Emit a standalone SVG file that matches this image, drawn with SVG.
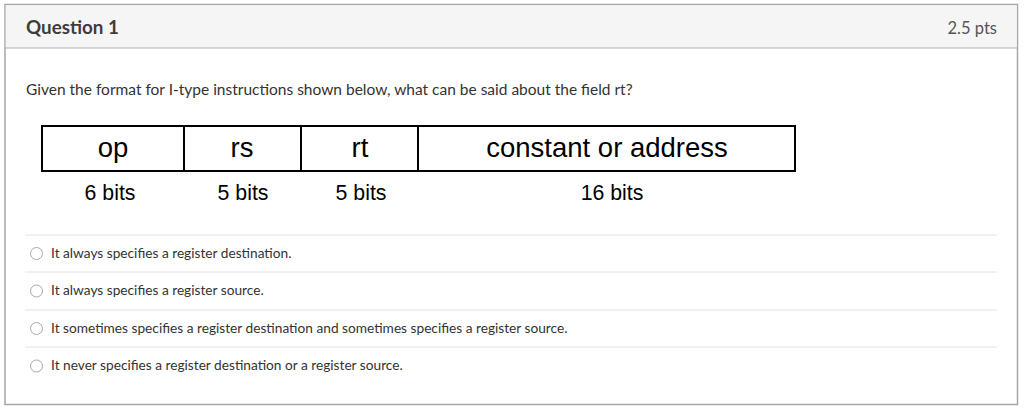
<svg xmlns="http://www.w3.org/2000/svg" width="1024" height="411" viewBox="0 0 1024 411">
<style>
.lato{font-family:Lato,"Open Sans",sans-serif;fill:#2d3b45}
.title{font-size:18.8px;font-weight:bold;fill:#3d3d3d}
.q{font-size:15.5px;fill:#333}
.opt{font-size:13.7px;fill:#333}
.cell{fill:#fff;stroke:#000;stroke-width:2}
.arial{font-family:"Liberation Sans",Arial,sans-serif;fill:#000;text-anchor:middle}
.big{font-size:27.5px}
.bits{font-size:21.3px}
.sep{stroke:#e2e2e2;stroke-width:1}
.radio{fill:#fff;stroke:#a8a8a8;stroke-width:1}
</style>
<rect x="0" y="0" width="1024" height="411" fill="#fff"/>
<g id="card">
<rect x="5" y="4.5" width="1012.5" height="400" fill="#fff" stroke="#a6a6a6" stroke-width="1.5"/>
<rect x="5.75" y="5.25" width="1011" height="42.5" fill="#f5f5f5"/>
<line x1="5" y1="48" x2="1017.5" y2="48" stroke="#b0b0b0" stroke-width="1.2"/>
<text class="lato title" x="26" y="34">Question 1</text>
<text class="lato" x="997" y="33.5" text-anchor="end" font-size="16.5" style="fill:#555">2.5 pts</text>
<text class="lato q" x="26" y="95">Given the format for I-type instructions shown below, what can be said about the field rt?</text>
</g>
<g id="format">
<g id="f-op"><rect class="cell" x="42" y="126" width="142" height="45"/><text class="arial big" x="113" y="157">op</text><text class="arial bits" x="110" y="200">6 bits</text></g>
<g id="f-rs"><rect class="cell" x="184" y="126" width="117" height="45"/><text class="arial big" x="242" y="157">rs</text><text class="arial bits" x="243" y="200">5 bits</text></g>
<g id="f-rt"><rect class="cell" x="301" y="126" width="117" height="45"/><text class="arial big" x="360" y="157">rt</text><text class="arial bits" x="361" y="200">5 bits</text></g>
<g id="f-addr"><rect class="cell" x="418" y="126" width="377" height="45"/><text class="arial big" x="607" y="157">constant or address</text><text class="arial bits" x="612" y="200">16 bits</text></g>
</g>
<g id="options">
<line class="sep" x1="25" y1="235" x2="997" y2="235"/>
<g id="opt1"><circle class="radio" cx="36.5" cy="253.5" r="6"/><text class="lato opt" x="51" y="257.5">It always specifies a register destination.</text></g>
<line class="sep" x1="25" y1="272" x2="997" y2="272"/>
<g id="opt2"><circle class="radio" cx="36.5" cy="291" r="6"/><text class="lato opt" x="51" y="295">It always specifies a register source.</text></g>
<line class="sep" x1="25" y1="310" x2="997" y2="310"/>
<g id="opt3"><circle class="radio" cx="36.5" cy="328.5" r="6"/><text class="lato opt" x="51" y="332.5">It sometimes specifies a register destination and sometimes specifies a register source.</text></g>
<line class="sep" x1="25" y1="347" x2="997" y2="347"/>
<g id="opt4"><circle class="radio" cx="36.5" cy="366" r="6"/><text class="lato opt" x="51" y="370">It never specifies a register destination or a register source.</text></g>
</g>
</svg>
